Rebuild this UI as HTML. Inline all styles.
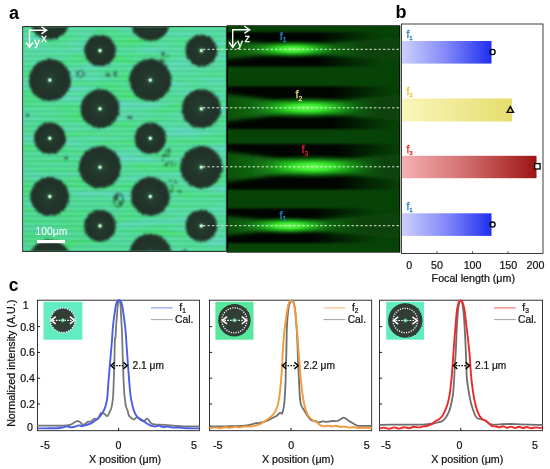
<!DOCTYPE html><html><head><meta charset="utf-8"><title>Figure</title><style>html,body{margin:0;padding:0;background:#fff}svg{display:block}text{font-family:"Liberation Sans",Arial,sans-serif}.k text{stroke:#111;stroke-width:0.22px}</style></head><body>
<svg width="550" height="469" viewBox="0 0 550 469">
<defs>
<linearGradient id="stripe" x1="0" y1="0" x2="0" y2="1"><stop offset="0" stop-color="#4fd39a"/><stop offset="0.5" stop-color="#5cccc0"/><stop offset="1" stop-color="#4fd39a"/></linearGradient>
<pattern id="bgp" x="0" y="27" width="200" height="9" patternUnits="userSpaceOnUse"><rect width="200" height="9" fill="url(#stripe)"/></pattern>
<filter id="rough" x="-10%" y="-10%" width="120%" height="120%"><feTurbulence type="fractalNoise" baseFrequency="0.6" numOctaves="2" seed="4" result="n"/><feDisplacementMap in="SourceGraphic" in2="n" scale="4" xChannelSelector="R" yChannelSelector="G"/><feGaussianBlur stdDeviation="0.8"/></filter>
<filter id="rough2" x="-15%" y="-15%" width="130%" height="130%"><feTurbulence type="fractalNoise" baseFrequency="0.5" numOctaves="2" seed="7" result="n"/><feDisplacementMap in="SourceGraphic" in2="n" scale="2" xChannelSelector="R" yChannelSelector="G"/><feGaussianBlur stdDeviation="0.6"/></filter>
<filter id="tex" x="0" y="0" width="100%" height="100%" color-interpolation-filters="sRGB"><feTurbulence type="fractalNoise" baseFrequency="0.02 0.11" numOctaves="3" seed="11"/><feColorMatrix type="matrix" values="0.14 0 0 0 0.25  -0.05 0 0 0 0.89  0.46 0 0 0 0.37  0 0 0 0 1"/></filter>
<filter id="b1" x="-10%" y="-30%" width="120%" height="160%"><feGaussianBlur stdDeviation="1.3"/></filter>
<filter id="b2" x="-20%" y="-50%" width="140%" height="200%"><feGaussianBlur stdDeviation="2.0"/></filter>
<filter id="b3" x="-20%" y="-50%" width="140%" height="200%"><feGaussianBlur stdDeviation="1.5"/></filter>
<radialGradient id="spot"><stop offset="0" stop-color="#e4f2dc"/><stop offset="0.3" stop-color="#c4e8c8"/><stop offset="0.5" stop-color="#5aa878" stop-opacity="0.8"/><stop offset="1" stop-color="#2f6a48" stop-opacity="0"/></radialGradient>
<radialGradient id="glow"><stop offset="0" stop-color="#70ff5a"/><stop offset="0.3" stop-color="#38ea2c" stop-opacity="0.95"/><stop offset="0.62" stop-color="#1cb01a" stop-opacity="0.55"/><stop offset="1" stop-color="#0c600c" stop-opacity="0"/></radialGradient>
<linearGradient id="tilt" x1="0" y1="1" x2="1" y2="0"><stop offset="0" stop-color="#3ccc72" stop-opacity="0.36"/><stop offset="0.5" stop-color="#48d0a0" stop-opacity="0.05"/><stop offset="1" stop-color="#60d0d8" stop-opacity="0.15"/></linearGradient>
<pattern id="fine" x="0" y="0" width="50" height="5" patternUnits="userSpaceOnUse"><rect width="50" height="2.5" fill="#0a5030" opacity="0.05"/><rect y="2.5" width="50" height="2.5" fill="#c0fff0" opacity="0.06"/></pattern>
<radialGradient id="disk"><stop offset="0" stop-color="#33503f"/><stop offset="0.3" stop-color="#25392e"/><stop offset="0.8" stop-color="#213228"/><stop offset="1" stop-color="#24382c"/></radialGradient>
<clipPath id="clipA"><rect x="23.3" y="27.2" width="202.4" height="223.6"/></clipPath>
<clipPath id="clipG"><rect x="227.7" y="26" width="171.8" height="226"/></clipPath>
<linearGradient id="gb1" x1="0" x2="1"><stop offset="0" stop-color="#cdd0fc"/><stop offset="0.5" stop-color="#8088f8"/><stop offset="1" stop-color="#1f2ff0"/></linearGradient>
<linearGradient id="gb2" x1="0" x2="1"><stop offset="0" stop-color="#f9f6bc"/><stop offset="1" stop-color="#e6dd6c"/></linearGradient>
<linearGradient id="gb3" x1="0" x2="1"><stop offset="0" stop-color="#f6b0b4"/><stop offset="0.5" stop-color="#d06a6a"/><stop offset="1" stop-color="#9c1414"/></linearGradient>
</defs>
<rect x="22.3" y="26.2" width="204.4" height="225.6" fill="#000"/>
<g clip-path="url(#clipA)">
<rect x="20" y="24" width="210" height="230" fill="#4fd49a"/>
<rect x="20" y="24" width="210" height="230" filter="url(#tex)" opacity="1"/>
<rect x="20" y="24" width="210" height="230" fill="url(#tilt)"/>
<rect x="20" y="24" width="210" height="230" fill="url(#fine)"/>
<g filter="url(#rough)" fill="none" stroke="#24442e" stroke-width="1.3" opacity="0.9">
<ellipse cx="80.5" cy="74" rx="3.4" ry="2.8"/>
<ellipse cx="108" cy="75" rx="1.3" ry="1.0"/>
<ellipse cx="115.3" cy="74" rx="1.2" ry="1.5"/>
<ellipse cx="27.5" cy="115" rx="1.1" ry="1.1"/>
<ellipse cx="130" cy="117" rx="1.3" ry="1.3"/>
<ellipse cx="66" cy="158" rx="1.3" ry="1.3"/>
<ellipse cx="118.5" cy="200" rx="4.6" ry="6.6"/>
<ellipse cx="116.5" cy="198" rx="1.2" ry="1.6"/>
<ellipse cx="120" cy="203" rx="1.2" ry="1.2"/>
<path d="M170.7 161.4q1.2 1.8 1.4 2.5"/>
<path d="M162.4 156.4q1.8 0.6 2.4 -2.3"/>
<path d="M168.6 152.4q0.2 0.3 -2.9 -1.7"/>
<path d="M165.9 164.5q1.1 -1.4 1.8 -2.2"/>
<path d="M170.6 150.3q-2.0 1.5 -1.7 -1.7"/>
<path d="M175.8 163.7q-0.8 1.8 0.2 1.1"/>
<path d="M164.9 164.9q0.8 1.9 2.4 -1.2"/>
<path d="M167.1 151.0q-1.4 -1.7 -1.2 0.6"/>
<path d="M162.0 160.2q-0.6 -0.8 1.9 -0.1"/>
<path d="M166.4 156.7q0.8 -1.8 2.9 -2.9"/>
<path d="M172.5 163.2q-1.9 1.2 -0.8 0.5"/>
<path d="M171.1 179.6q-1.3 1.8 -1.8 1.5"/>
<path d="M181.2 191.2q-0.6 -0.6 0.1 1.7"/>
<path d="M172.2 188.7q1.2 1.4 -2.8 2.7"/>
<path d="M172.0 183.4q0.4 1.7 -1.0 2.5"/>
<path d="M177.0 183.1q-0.7 -1.3 -2.5 -2.1"/>
<path d="M178.6 192.0q-1.4 -1.8 2.9 0.2"/>
<path d="M175.5 182.1q0.4 1.3 -0.3 -0.5"/>
<path d="M171.6 190.9q-1.9 -0.0 2.0 -2.2"/>
<path d="M165.3 62.3q0.5 1.2 -2.4 -0.4"/>
<path d="M159.5 61.0q-0.8 -0.2 3.0 2.1"/>
<path d="M167.8 55.9q-0.0 0.9 -0.1 -1.3"/>
<path d="M162.0 51.9q-0.5 2.0 2.8 0.8"/>
<path d="M163.0 54.4q-1.6 -0.9 1.7 2.2"/>
<path d="M161.6 60.2q1.1 0.8 1.0 1.6"/>
<path d="M161.6 59.2q-0.9 -0.1 1.6 1.1"/>
<path d="M185.1 250.7q0.6 0.3 -2.9 0.3"/>
<path d="M184.8 249.4q-0.1 1.3 0.9 1.8"/>
<path d="M185.4 249.2q1.0 1.3 -0.9 2.1"/>
</g>
<g filter="url(#rough)" fill="url(#disk)">
<circle cx="49.8" cy="20.3" r="19.5"/>
<circle cx="49.8" cy="80.1" r="21.1"/>
<circle cx="49.8" cy="138.3" r="15.8"/>
<circle cx="49.8" cy="196.5" r="19.5"/>
<circle cx="49.8" cy="260.8" r="21.1"/>
<circle cx="150.3" cy="21.6" r="19.5"/>
<circle cx="150.3" cy="80.1" r="21.1"/>
<circle cx="150.3" cy="138.3" r="15.8"/>
<circle cx="150.3" cy="196.5" r="19.5"/>
<circle cx="150.3" cy="254.8" r="21.1"/>
<circle cx="100.0" cy="50.6" r="15.8"/>
<circle cx="100.0" cy="108.8" r="19.5"/>
<circle cx="100.0" cy="167.2" r="21.1"/>
<circle cx="100.0" cy="225.9" r="15.8"/>
<circle cx="201.3" cy="50.6" r="15.8"/>
<circle cx="201.3" cy="108.8" r="19.5"/>
<circle cx="201.3" cy="167.2" r="21.1"/>
<circle cx="201.3" cy="225.9" r="15.8"/>
</g>
<circle cx="49.8" cy="20.3" r="3.6" fill="url(#spot)"/>
<circle cx="49.8" cy="80.1" r="3.6" fill="url(#spot)"/>
<circle cx="49.8" cy="138.3" r="3.6" fill="url(#spot)"/>
<circle cx="49.8" cy="196.5" r="3.6" fill="url(#spot)"/>
<circle cx="49.8" cy="260.8" r="3.6" fill="url(#spot)"/>
<circle cx="150.3" cy="21.6" r="3.6" fill="url(#spot)"/>
<circle cx="150.3" cy="80.1" r="3.6" fill="url(#spot)"/>
<circle cx="150.3" cy="138.3" r="3.6" fill="url(#spot)"/>
<circle cx="150.3" cy="196.5" r="3.6" fill="url(#spot)"/>
<circle cx="150.3" cy="254.8" r="3.6" fill="url(#spot)"/>
<circle cx="100.0" cy="50.6" r="3.6" fill="url(#spot)"/>
<circle cx="100.0" cy="108.8" r="3.6" fill="url(#spot)"/>
<circle cx="100.0" cy="167.2" r="3.6" fill="url(#spot)"/>
<circle cx="100.0" cy="225.9" r="3.6" fill="url(#spot)"/>
<circle cx="201.3" cy="50.6" r="3.6" fill="url(#spot)"/>
<circle cx="201.3" cy="108.8" r="3.6" fill="url(#spot)"/>
<circle cx="201.3" cy="167.2" r="3.6" fill="url(#spot)"/>
<circle cx="201.3" cy="225.9" r="3.6" fill="url(#spot)"/>
</g>
<rect x="37" y="240" width="28" height="3.2" fill="#fff"/>
<text x="35.6" y="234.9" font-size="10.3" fill="#fff">100μm</text>
<g stroke="#fff" stroke-width="1.4" fill="none" stroke-linecap="square"><path d="M29.5 47.3V30.3H46.5"/><path d="M42.0 27.1L46.5 30.3L42.0 33.5"/><path d="M26.3 42.8L29.5 47.3L32.7 42.8"/></g><text x="34.2" y="46.4" font-size="11" fill="#fff" stroke="#fff" stroke-width="0.3">y</text><text x="41.2" y="41.6" font-size="11" fill="#fff" stroke="#fff" stroke-width="0.3">x</text>
<rect x="226.7" y="25.3" width="173.6" height="227.3" fill="#000"/>
<g clip-path="url(#clipG)">
<rect x="227.5" y="26" width="172" height="226" fill="#074207"/>
<linearGradient id="dk0" gradientUnits="userSpaceOnUse" x1="227" x2="381"><stop offset="0" stop-color="#000" stop-opacity="0.93"/><stop offset="0.591" stop-color="#000" stop-opacity="0.92"/><stop offset="1" stop-color="#000" stop-opacity="0"/></linearGradient>
<rect x="218" y="31.999999999999996" width="163" height="34.6" fill="url(#dk0)" filter="url(#b1)"/>
<linearGradient id="cn0" gradientUnits="userSpaceOnUse" x1="227" x2="400"><stop offset="0" stop-color="#0d4f0d"/><stop offset="0.210" stop-color="#157a15"/><stop offset="0.382" stop-color="#20b81e"/><stop offset="0.601" stop-color="#116811"/><stop offset="0.798" stop-color="#074207"/><stop offset="1" stop-color="#074207"/></linearGradient>
<path d="M215 38.0 L279 45.339999999999996 L307 45.339999999999996 L410 35.9 V62.7 L307 53.26 L279 53.26 L215 60.599999999999994Z" fill="url(#cn0)" filter="url(#b2)"/>
<ellipse cx="293" cy="49.3" rx="49.5" ry="9.6" fill="url(#glow)"/>
<linearGradient id="dk1" gradientUnits="userSpaceOnUse" x1="227" x2="395"><stop offset="0" stop-color="#000" stop-opacity="0.93"/><stop offset="0.625" stop-color="#000" stop-opacity="0.92"/><stop offset="1" stop-color="#000" stop-opacity="0"/></linearGradient>
<rect x="218" y="86.5" width="177" height="42.6" fill="url(#dk1)" filter="url(#b1)"/>
<linearGradient id="cn1" gradientUnits="userSpaceOnUse" x1="227" x2="400"><stop offset="0" stop-color="#0d4f0d"/><stop offset="0.254" stop-color="#157a15"/><stop offset="0.462" stop-color="#20b81e"/><stop offset="0.682" stop-color="#116811"/><stop offset="0.879" stop-color="#074207"/><stop offset="1" stop-color="#074207"/></linearGradient>
<path d="M215 92.5 L293 102.88 L321 102.88 L410 93.0 V122.6 L321 112.72 L293 112.72 L215 123.1Z" fill="url(#cn1)" filter="url(#b2)"/>
<ellipse cx="307" cy="107.8" rx="61.5" ry="11.9" fill="url(#glow)"/>
<linearGradient id="dk2" gradientUnits="userSpaceOnUse" x1="227" x2="401"><stop offset="0" stop-color="#000" stop-opacity="0.93"/><stop offset="0.638" stop-color="#000" stop-opacity="0.92"/><stop offset="1" stop-color="#000" stop-opacity="0"/></linearGradient>
<rect x="218" y="144.0" width="183" height="45.6" fill="url(#dk2)" filter="url(#b1)"/>
<linearGradient id="cn2" gradientUnits="userSpaceOnUse" x1="227" x2="400"><stop offset="0" stop-color="#0d4f0d"/><stop offset="0.273" stop-color="#157a15"/><stop offset="0.497" stop-color="#20b81e"/><stop offset="0.717" stop-color="#116811"/><stop offset="0.913" stop-color="#074207"/><stop offset="1" stop-color="#074207"/></linearGradient>
<path d="M215 150.0 L299 161.52 L327 161.52 L410 152.0 V181.6 L327 172.08 L299 172.08 L215 183.60000000000002Z" fill="url(#cn2)" filter="url(#b2)"/>
<ellipse cx="313" cy="166.8" rx="66.0" ry="12.8" fill="url(#glow)"/>
<linearGradient id="dk3" gradientUnits="userSpaceOnUse" x1="227" x2="377"><stop offset="0" stop-color="#000" stop-opacity="0.93"/><stop offset="0.580" stop-color="#000" stop-opacity="0.92"/><stop offset="1" stop-color="#000" stop-opacity="0"/></linearGradient>
<rect x="218" y="208.39999999999998" width="159" height="34.6" fill="url(#dk3)" filter="url(#b1)"/>
<linearGradient id="cn3" gradientUnits="userSpaceOnUse" x1="227" x2="400"><stop offset="0" stop-color="#0d4f0d"/><stop offset="0.197" stop-color="#157a15"/><stop offset="0.358" stop-color="#20b81e"/><stop offset="0.578" stop-color="#116811"/><stop offset="0.775" stop-color="#074207"/><stop offset="1" stop-color="#074207"/></linearGradient>
<path d="M215 214.39999999999998 L275 221.73999999999998 L303 221.73999999999998 L410 211.2 V240.2 L303 229.66 L275 229.66 L215 237.0Z" fill="url(#cn3)" filter="url(#b2)"/>
<ellipse cx="289" cy="225.7" rx="49.5" ry="9.6" fill="url(#glow)"/>
</g>
<line x1="203" x2="400" y1="49.3" y2="49.3" stroke="#dcecdc" stroke-width="1" stroke-dasharray="2.4 2.1"/>
<line x1="203" x2="400" y1="107.8" y2="107.8" stroke="#dcecdc" stroke-width="1" stroke-dasharray="2.4 2.1"/>
<line x1="203" x2="400" y1="166.8" y2="166.8" stroke="#dcecdc" stroke-width="1" stroke-dasharray="2.4 2.1"/>
<line x1="203" x2="400" y1="225.7" y2="225.7" stroke="#dcecdc" stroke-width="1" stroke-dasharray="2.4 2.1"/>
<g stroke="#fff" stroke-width="1.4" fill="none" stroke-linecap="square"><path d="M232.7 47.3V29.8H249.5"/><path d="M245.0 26.6L249.5 29.8L245.0 33.0"/><path d="M229.5 42.8L232.7 47.3L235.89999999999998 42.8"/></g><text x="237.2" y="46.8" font-size="11" fill="#fff" stroke="#fff" stroke-width="0.3">y</text><text x="244.4" y="41.8" font-size="11" fill="#fff" stroke="#fff" stroke-width="0.3">z</text>
<text x="279.8" y="39.8" font-size="11" fill="#2a7fc0" style="stroke:#2a7fc0;stroke-width:0.3px">f<tspan font-size="6.8" dy="2.2">1</tspan></text>
<text x="295.4" y="98.4" font-size="11" fill="#ecd27a" style="stroke:#ecd27a;stroke-width:0.3px">f<tspan font-size="6.8" dy="2.2">2</tspan></text>
<text x="301.5" y="153.4" font-size="11" fill="#d82030" style="stroke:#d82030;stroke-width:0.3px">f<tspan font-size="6.8" dy="2.2">3</tspan></text>
<text x="279.4" y="219" font-size="11" fill="#2a7fc0" style="stroke:#2a7fc0;stroke-width:0.3px">f<tspan font-size="6.8" dy="2.2">1</tspan></text>
<text x="9" y="18.6" font-size="18" font-weight="bold" fill="#000">a</text>
<text x="395.5" y="18.4" font-size="18" font-weight="bold" fill="#000">b</text>
<text x="8.8" y="290.9" font-size="17.5" font-weight="bold" fill="#000">c</text>
<g class="k">
<rect x="401.5" y="24" width="141.5" height="229.5" fill="#fff" stroke="#111" stroke-width="0.8"/>
<rect x="402" y="41" width="89.5" height="22.6" fill="url(#gb1)"/>
<rect x="402" y="98.5" width="110" height="23" fill="url(#gb2)"/>
<rect x="402" y="155.8" width="134.5" height="22.4" fill="url(#gb3)"/>
<rect x="402" y="213.3" width="89.5" height="22.6" fill="url(#gb1)"/>
<circle cx="492.5" cy="52" r="2.6" fill="none" stroke="#000" stroke-width="1.3"/>
<path d="M510.3 106.6 L513.5 112.4 H507.1Z" fill="none" stroke="#000" stroke-width="1.4"/>
<rect x="534.7" y="163.6" width="5.4" height="5.4" fill="#fff" stroke="#000" stroke-width="1.3"/>
<circle cx="492.5" cy="224.6" r="2.6" fill="none" stroke="#000" stroke-width="1.3"/>
<text x="406.5" y="38" font-size="10" fill="#2a7fc0" style="stroke:#2a7fc0;stroke-width:0.3px">f<tspan font-size="6.2" dy="2.2">1</tspan></text>
<text x="406.5" y="95" font-size="10" fill="#f2c232" style="stroke:#f2c232;stroke-width:0.3px">f<tspan font-size="6.2" dy="2.2">2</tspan></text>
<text x="406.5" y="153" font-size="10" fill="#e02828" style="stroke:#e02828;stroke-width:0.3px">f<tspan font-size="6.2" dy="2.2">3</tspan></text>
<text x="406.5" y="210" font-size="10" fill="#2a7fc0" style="stroke:#2a7fc0;stroke-width:0.3px">f<tspan font-size="6.2" dy="2.2">1</tspan></text>
<line x1="437" x2="437" y1="253.5" y2="251.3" stroke="#222" stroke-width="0.8"/>
<line x1="472.5" x2="472.5" y1="253.5" y2="251.3" stroke="#222" stroke-width="0.8"/>
<line x1="508" x2="508" y1="253.5" y2="251.3" stroke="#222" stroke-width="0.8"/>
<text x="409.2" y="269.3" font-size="10.7" text-anchor="middle" fill="#111">0</text>
<text x="437" y="269.3" font-size="10.7" text-anchor="middle" fill="#111">50</text>
<text x="472.6" y="269.3" font-size="10.7" text-anchor="middle" fill="#111">100</text>
<text x="508.3" y="269.3" font-size="10.7" text-anchor="middle" fill="#111">150</text>
<text x="535.5" y="269.3" font-size="10.7" text-anchor="middle" fill="#111">200</text>
<text x="473.3" y="281.5" font-size="10.7" text-anchor="middle" fill="#111">Focal length (μm)</text>
<rect x="37.5" y="300.2" width="162.0" height="130.5" fill="#fff" stroke="#111" stroke-width="0.85"/><text x="33" y="431.4" font-size="10.7" text-anchor="end" fill="#111">0</text><line x1="37.5" x2="40.1" y1="404.0" y2="404.0" stroke="#000" stroke-width="0.9"/><text x="35" y="407.9" font-size="10.7" text-anchor="end" fill="#111">0.2</text><line x1="37.5" x2="40.1" y1="378.2" y2="378.2" stroke="#000" stroke-width="0.9"/><text x="35" y="382.1" font-size="10.7" text-anchor="end" fill="#111">0.4</text><line x1="37.5" x2="40.1" y1="352.4" y2="352.4" stroke="#000" stroke-width="0.9"/><text x="35" y="356.3" font-size="10.7" text-anchor="end" fill="#111">0.6</text><line x1="37.5" x2="40.1" y1="326.6" y2="326.6" stroke="#000" stroke-width="0.9"/><text x="35" y="330.5" font-size="10.7" text-anchor="end" fill="#111">0.8</text><text x="28.8" y="308.9" font-size="10.7" text-anchor="end" fill="#111">1</text><line x1="118.6" x2="118.6" y1="430.7" y2="427.9" stroke="#000" stroke-width="0.9"/><text x="45.099999999999994" y="449.3" font-size="10.7" text-anchor="middle" fill="#111">-5</text><text x="118.6" y="449.3" font-size="10.7" text-anchor="middle" fill="#111">0</text><text x="194.1" y="449.3" font-size="10.7" text-anchor="middle" fill="#111">5</text><text x="125.1" y="463" font-size="10.7" text-anchor="middle" fill="#111">X position (μm)</text><rect x="43.5" y="301.8" width="38.9" height="37.9" fill="#62ecc2"/><circle cx="62.8" cy="320.3" r="12.3" fill="#303c36" filter="url(#rough2)"/><circle cx="62.8" cy="320.3" r="12.2" fill="none" stroke="#fff" stroke-width="1.3" stroke-dasharray="1.2 1.25"/><g stroke="#fff" stroke-width="1.55" fill="none"><path d="M53.099999999999994 320.3H72.5" stroke-dasharray="1.6 1.2" stroke-width="1.2"/><path d="M55.699999999999996 316.7L51.099999999999994 320.3L55.699999999999996 323.90000000000003M69.9 316.7L74.5 320.3L69.9 323.90000000000003"/></g><circle cx="62.8" cy="320.3" r="2.3" fill="#2aa86a" opacity="0.8"/><circle cx="62.8" cy="320.3" r="1.3" fill="#b8f8d8"/><path d="M37.5 425.7C39.5 425.7 46.0 425.7 50.0 425.7C54.0 425.7 59.6 425.8 62.8 425.7C66.0 425.6 68.0 425.4 70.0 424.8C72.0 424.2 73.8 422.6 75.0 422.0C76.2 421.4 76.9 420.9 77.8 421.0C78.7 421.1 79.7 421.9 80.5 422.5C81.3 423.1 82.3 424.8 83.0 425.0C83.7 425.2 84.2 424.3 85.0 423.8C85.8 423.3 87.2 422.1 88.2 421.7C89.2 421.3 90.4 421.8 91.4 421.3C92.4 420.8 93.6 419.0 94.5 418.7C95.4 418.4 96.4 419.9 97.1 419.6C97.8 419.3 98.4 417.9 99.0 416.8C99.6 415.7 100.1 413.5 100.9 413.0C101.7 412.5 103.1 413.1 104.1 413.6C105.1 414.1 106.4 416.5 107.3 416.2C108.2 415.9 109.1 413.2 109.8 411.7C110.5 410.2 111.2 408.8 111.7 406.6C112.2 404.4 112.7 401.2 113.0 397.7C113.3 394.2 113.4 390.1 113.6 385.0C113.8 379.9 114.1 372.8 114.3 365.6C114.5 358.4 114.7 344.5 114.9 340.0C115.1 335.5 115.3 339.7 115.5 337.6C115.7 335.5 115.9 330.4 116.1 327.0C116.3 323.6 116.6 319.7 116.9 316.3C117.2 312.9 117.5 308.1 117.7 305.7C117.9 303.3 118.2 301.9 118.4 301.0C118.6 300.1 118.9 300.3 119.1 300.3C119.3 300.3 119.7 300.1 119.9 301.0C120.1 301.9 120.4 303.3 120.6 305.7C120.8 308.1 120.9 312.9 121.1 316.3C121.3 319.7 121.5 323.6 121.7 327.0C121.9 330.4 122.0 331.4 122.2 337.6C122.4 343.8 122.7 358.0 123.0 365.6C123.3 373.2 123.5 379.9 123.8 385.0C124.1 390.1 124.3 394.2 124.7 397.7C125.1 401.2 125.5 404.6 126.0 406.6C126.5 408.6 127.1 409.1 127.6 410.5C128.1 411.9 128.3 414.3 128.9 415.5C129.5 416.7 130.7 417.5 131.5 418.1C132.3 418.7 133.1 419.6 134.0 419.4C134.9 419.2 136.3 417.1 137.2 417.1C138.1 417.1 138.7 418.7 139.7 419.4C140.7 420.1 142.4 421.4 143.5 421.3C144.6 421.2 145.9 418.9 146.7 418.7C147.5 418.5 147.9 419.3 148.6 420.0C149.3 420.7 150.2 422.5 151.2 423.2C152.2 423.9 152.8 424.2 155.0 424.5C157.2 424.8 161.5 424.7 164.7 424.9C167.9 425.1 172.1 425.6 175.0 425.8C177.9 426.0 178.7 426.2 182.6 426.3C186.5 426.4 196.8 426.3 199.5 426.3" fill="none" stroke="#787878" stroke-width="1.8" stroke-linejoin="round"/><path d="M37.5 428.4C39.5 428.4 46.7 428.3 50.0 428.3C53.3 428.3 55.9 428.3 58.0 428.2C60.1 428.1 61.6 427.7 63.0 427.4C64.4 427.1 65.7 426.4 67.0 426.4C68.3 426.4 69.7 427.3 71.0 427.3C72.3 427.3 73.7 426.9 75.0 426.6C76.3 426.3 77.8 425.5 79.0 425.4C80.2 425.3 81.3 426.2 82.5 426.1C83.7 426.0 84.9 425.5 86.3 425.0C87.7 424.5 89.9 424.0 91.4 423.2C92.9 422.4 94.5 421.0 95.8 420.0C97.1 419.0 98.5 418.0 99.6 416.8C100.7 415.6 101.9 414.0 102.8 412.4C103.7 410.8 104.7 409.0 105.4 406.6C106.1 404.2 106.9 401.2 107.3 397.7C107.7 394.2 107.8 390.1 108.2 385.0C108.6 379.9 109.2 372.8 109.8 365.6C110.4 358.4 111.5 346.2 112.0 340.0C112.5 333.8 112.5 330.8 112.9 327.0C113.3 323.2 113.7 319.7 114.2 316.3C114.7 312.9 115.3 308.1 115.8 305.7C116.3 303.3 116.8 302.1 117.3 301.2C117.8 300.3 118.5 300.2 119.0 300.2C119.5 300.2 120.2 300.3 120.7 301.2C121.2 302.1 121.7 303.3 122.2 305.7C122.7 308.1 123.3 312.9 123.8 316.3C124.3 319.7 124.8 323.2 125.2 327.0C125.6 330.8 125.8 333.8 126.2 340.0C126.6 346.2 127.5 358.4 128.0 365.6C128.5 372.8 129.1 379.9 129.5 385.0C129.9 390.1 130.3 394.2 130.8 397.7C131.3 401.2 132.1 404.2 132.7 406.6C133.3 409.0 133.9 410.8 134.6 412.4C135.3 414.0 136.2 415.7 137.2 416.8C138.2 417.9 139.8 418.6 141.0 419.4C142.2 420.2 143.6 421.1 144.8 421.9C146.0 422.7 147.4 423.8 148.6 424.5C149.8 425.2 151.0 425.7 152.0 426.0C153.0 426.3 153.9 426.7 155.0 426.6C156.1 426.5 157.7 425.5 159.0 425.6C160.3 425.7 161.6 426.8 163.0 427.0C164.4 427.2 166.4 426.5 168.0 426.6C169.6 426.7 171.1 427.4 173.0 427.6C174.9 427.8 177.5 427.5 179.6 427.6C181.7 427.7 182.8 428.1 186.0 428.2C189.2 428.3 197.3 428.4 199.5 428.4" fill="none" stroke="#4a5ee6" stroke-width="1.9" stroke-linejoin="round"/><line x1="151.0" x2="172.8" y1="307.9" y2="307.9" stroke="#4a5ee6" stroke-width="1" opacity="0.75"/><line x1="151.0" x2="172.8" y1="319.6" y2="319.6" stroke="#787878" stroke-width="1" opacity="0.65"/><text x="179.3" y="311" font-size="10.3" fill="#111">f<tspan font-size="6.6" dy="2.2">1</tspan></text><text x="175.10000000000002" y="323.4" font-size="10.3" fill="#111">Cal.</text><g stroke="#000" stroke-width="1.4" fill="none"><path d="M113.3 365.6H124.8" stroke-dasharray="1.6 1.2" stroke-width="1.2"/><path d="M114.7 362.3L110.89999999999999 365.6L114.7 368.90000000000003M123.39999999999999 362.3L127.2 365.6L123.39999999999999 368.90000000000003"/></g><text x="132.6" y="369.3" font-size="10.2" fill="#111">2.1 μm</text>
<rect x="209.5" y="300.2" width="162.2" height="130.5" fill="#fff" stroke="#111" stroke-width="0.85"/><line x1="209.5" x2="212.1" y1="404.0" y2="404.0" stroke="#000" stroke-width="0.9"/><line x1="209.5" x2="212.1" y1="378.2" y2="378.2" stroke="#000" stroke-width="0.9"/><line x1="209.5" x2="212.1" y1="352.4" y2="352.4" stroke="#000" stroke-width="0.9"/><line x1="209.5" x2="212.1" y1="326.6" y2="326.6" stroke="#000" stroke-width="0.9"/><line x1="291" x2="291" y1="430.7" y2="427.9" stroke="#000" stroke-width="0.9"/><text x="217.7" y="449.3" font-size="10.7" text-anchor="middle" fill="#111">-5</text><text x="291.2" y="449.3" font-size="10.7" text-anchor="middle" fill="#111">0</text><text x="366.7" y="449.3" font-size="10.7" text-anchor="middle" fill="#111">5</text><text x="298.0" y="463" font-size="10.7" text-anchor="middle" fill="#111">X position (μm)</text><rect x="215.4" y="301.8" width="38.1" height="37.9" fill="#58e89c"/><circle cx="234.4" cy="320.3" r="16.2" fill="#303c36" filter="url(#rough2)"/><circle cx="234.4" cy="320.3" r="12.5" fill="none" stroke="#fff" stroke-width="1.3" stroke-dasharray="1.2 1.25"/><g stroke="#fff" stroke-width="1.55" fill="none"><path d="M224.4 320.3H244.4" stroke-dasharray="1.6 1.2" stroke-width="1.2"/><path d="M227.0 316.7L222.4 320.3L227.0 323.90000000000003M241.8 316.7L246.4 320.3L241.8 323.90000000000003"/></g><circle cx="234.4" cy="320.3" r="2.3" fill="#2aa86a" opacity="0.8"/><circle cx="234.4" cy="320.3" r="1.3" fill="#b8f8d8"/><path d="M209.5 426.3C212.0 426.3 219.4 426.4 225.0 426.3C230.6 426.2 239.8 426.2 244.8 425.7C249.8 425.2 253.2 423.7 256.0 423.2C258.8 422.7 260.1 422.9 262.0 422.5C263.9 422.1 266.2 421.2 267.9 420.5C269.6 419.8 271.0 418.8 272.4 418.0C273.8 417.2 275.7 416.5 276.9 415.7C278.1 414.9 279.1 413.2 279.9 412.8C280.7 412.4 281.6 414.0 282.1 413.5C282.6 413.0 282.8 411.6 283.2 409.8C283.6 408.0 284.0 407.1 284.4 402.3C284.8 397.5 285.4 385.9 285.6 379.9C285.8 373.9 285.8 369.0 285.9 365.0C286.0 361.0 286.2 358.7 286.3 354.7C286.4 350.7 286.5 344.6 286.6 339.8C286.7 335.0 286.7 329.7 287.0 324.9C287.3 320.1 287.8 313.6 288.3 310.0C288.8 306.4 289.4 304.0 290.0 302.5C290.6 301.0 291.4 300.3 292.0 300.4C292.6 300.5 293.3 301.5 293.8 303.0C294.3 304.5 294.6 306.5 295.0 310.0C295.4 313.5 296.0 320.1 296.4 324.9C296.8 329.7 297.1 335.0 297.3 339.8C297.5 344.6 297.7 350.7 297.8 354.7C297.9 358.7 298.0 361.0 298.2 365.0C298.4 369.0 298.8 375.1 299.0 379.9C299.2 384.7 299.5 391.3 299.7 394.9C299.9 398.5 300.2 400.5 300.5 402.3C300.8 404.1 301.0 404.8 301.5 406.0C302.0 407.2 302.8 408.2 303.8 409.8C304.8 411.4 306.3 414.0 307.5 415.7C308.7 417.4 309.9 419.4 311.2 420.2C312.5 421.0 314.5 420.6 315.7 421.0C316.9 421.4 317.6 422.4 318.7 422.4C319.8 422.4 321.4 421.4 322.7 421.3C324.0 421.2 325.5 421.8 327.0 421.8C328.5 421.8 330.9 421.1 332.3 421.0C333.7 420.9 335.0 421.3 336.0 421.2C337.0 421.1 337.8 420.9 338.6 420.5C339.4 420.1 340.2 419.4 341.0 419.0C341.8 418.6 342.6 417.8 343.4 417.7C344.2 417.6 345.0 418.2 345.8 418.6C346.6 419.0 347.3 419.9 348.2 420.5C349.1 421.1 350.6 422.0 351.6 422.6C352.6 423.2 353.5 423.8 354.5 424.3C355.5 424.8 356.2 425.5 357.7 425.8C359.2 426.1 361.8 425.9 364.0 425.9C366.2 425.9 370.5 425.9 371.7 425.9" fill="none" stroke="#6e6e6e" stroke-width="1.8" stroke-linejoin="round"/><path d="M209.5 428.4C210.4 428.2 213.3 427.4 215.0 427.4C216.7 427.4 218.4 428.2 220.0 428.2C221.6 428.2 223.4 427.3 225.0 427.2C226.6 427.1 228.4 427.9 230.0 427.8C231.6 427.7 233.4 426.9 235.0 426.8C236.6 426.7 238.4 427.5 240.0 427.4C241.6 427.3 243.4 426.5 245.0 426.4C246.6 426.3 248.4 426.7 250.0 426.6C251.6 426.5 253.3 426.0 255.0 425.6C256.7 425.2 258.9 424.7 260.5 424.0C262.1 423.3 263.6 422.0 265.0 421.0C266.4 420.0 268.1 419.1 269.4 418.0C270.7 416.9 272.1 415.6 273.2 414.3C274.3 413.0 275.3 411.5 276.1 409.8C276.9 408.1 277.5 406.2 278.1 403.8C278.7 401.4 279.1 398.7 279.6 394.9C280.1 391.1 280.7 384.7 281.1 379.9C281.5 375.1 281.9 369.0 282.1 365.0C282.3 361.0 282.4 358.7 282.6 354.7C282.8 350.7 283.2 344.6 283.6 339.8C284.0 335.0 284.5 329.7 285.1 324.9C285.7 320.1 286.7 313.6 287.3 310.0C287.9 306.4 288.4 304.0 289.0 302.5C289.6 301.0 290.4 300.4 291.1 300.4C291.8 300.4 292.6 301.0 293.2 302.5C293.8 304.0 294.6 306.4 295.1 310.0C295.6 313.6 296.2 320.1 296.6 324.9C297.0 329.7 297.4 335.0 297.8 339.8C298.2 344.6 298.5 350.7 298.8 354.7C299.1 358.7 299.4 361.0 299.7 365.0C300.0 369.0 300.3 375.1 300.8 379.9C301.3 384.7 302.1 391.1 302.6 394.9C303.1 398.7 303.6 401.4 304.1 403.8C304.6 406.2 305.0 407.9 305.7 409.8C306.4 411.7 307.1 414.0 308.2 415.7C309.3 417.4 311.3 419.1 312.7 420.2C314.1 421.3 316.0 421.7 317.2 422.5C318.4 423.3 319.1 424.6 320.2 425.2C321.3 425.8 322.8 426.3 324.0 426.4C325.2 426.5 326.7 425.6 328.0 425.6C329.3 425.6 331.0 426.4 332.3 426.4C333.6 426.4 334.8 425.7 336.0 425.8C337.2 425.9 338.6 426.7 340.0 426.8C341.4 426.9 343.6 426.5 345.0 426.6C346.4 426.7 347.7 427.5 349.0 427.6C350.3 427.7 351.6 426.9 353.0 427.0C354.4 427.1 356.2 427.9 358.0 428.0C359.8 428.1 361.8 427.8 364.0 427.8C366.2 427.8 370.5 428.0 371.7 428.0" fill="none" stroke="#f39a3e" stroke-width="1.9" stroke-linejoin="round"/><line x1="323.59999999999997" x2="345.4" y1="307.9" y2="307.9" stroke="#f39a3e" stroke-width="1" opacity="0.75"/><line x1="323.59999999999997" x2="345.4" y1="319.6" y2="319.6" stroke="#6e6e6e" stroke-width="1" opacity="0.65"/><text x="351.9" y="311" font-size="10.3" fill="#111">f<tspan font-size="6.6" dy="2.2">2</tspan></text><text x="347.7" y="323.4" font-size="10.3" fill="#111">Cal.</text><g stroke="#000" stroke-width="1.4" fill="none"><path d="M284.8 365.6H295.8" stroke-dasharray="1.6 1.2" stroke-width="1.2"/><path d="M286.2 362.3L282.40000000000003 365.6L286.2 368.90000000000003M294.40000000000003 362.3L298.2 365.6L294.40000000000003 368.90000000000003"/></g><text x="303.6" y="369.3" font-size="10.2" fill="#111">2.2 μm</text>
<rect x="379.5" y="300.2" width="163.0" height="130.5" fill="#fff" stroke="#111" stroke-width="0.85"/><line x1="379.5" x2="382.1" y1="404.0" y2="404.0" stroke="#000" stroke-width="0.9"/><line x1="379.5" x2="382.1" y1="378.2" y2="378.2" stroke="#000" stroke-width="0.9"/><line x1="379.5" x2="382.1" y1="352.4" y2="352.4" stroke="#000" stroke-width="0.9"/><line x1="379.5" x2="382.1" y1="326.6" y2="326.6" stroke="#000" stroke-width="0.9"/><line x1="460.8" x2="460.8" y1="430.7" y2="427.9" stroke="#000" stroke-width="0.9"/><text x="386.1" y="449.3" font-size="10.7" text-anchor="middle" fill="#111">-5</text><text x="459.6" y="449.3" font-size="10.7" text-anchor="middle" fill="#111">0</text><text x="535.1" y="449.3" font-size="10.7" text-anchor="middle" fill="#111">5</text><text x="467.3" y="463" font-size="10.7" text-anchor="middle" fill="#111">X position (μm)</text><rect x="386.2" y="301.8" width="37.8" height="37.9" fill="#62ecc2"/><circle cx="405.3" cy="320.5" r="17.2" fill="#303c36" filter="url(#rough2)"/><circle cx="405.3" cy="320.5" r="12.2" fill="none" stroke="#fff" stroke-width="1.3" stroke-dasharray="1.2 1.25"/><g stroke="#fff" stroke-width="1.55" fill="none"><path d="M395.6 320.5H415.0" stroke-dasharray="1.6 1.2" stroke-width="1.2"/><path d="M398.20000000000005 316.9L393.6 320.5L398.20000000000005 324.1M412.4 316.9L417.0 320.5L412.4 324.1"/></g><circle cx="405.3" cy="320.5" r="2.3" fill="#2aa86a" opacity="0.8"/><circle cx="405.3" cy="320.5" r="1.3" fill="#b8f8d8"/><path d="M379.5 424.8C382.8 424.8 394.3 424.6 400.0 424.6C405.7 424.6 410.8 424.6 415.0 424.6C419.2 424.6 423.0 424.6 426.0 424.4C429.0 424.2 431.6 423.8 433.5 423.5C435.4 423.2 436.5 422.9 437.9 422.5C439.3 422.1 441.2 421.7 442.4 421.0C443.6 420.3 444.4 419.3 445.4 418.0C446.4 416.7 447.6 414.6 448.4 412.8C449.2 411.0 449.9 409.7 450.6 406.8C451.3 403.9 452.3 399.2 452.9 394.9C453.5 390.6 453.8 384.7 454.1 379.9C454.4 375.1 454.6 369.0 454.8 365.0C455.0 361.0 455.4 358.7 455.6 354.7C455.8 350.7 456.1 344.6 456.3 339.8C456.5 335.0 456.7 329.7 457.0 324.9C457.3 320.1 457.7 313.6 458.1 310.0C458.5 306.4 458.9 304.0 459.3 302.5C459.7 301.0 460.3 300.4 460.7 300.4C461.1 300.4 461.7 301.0 462.1 302.5C462.5 304.0 462.9 306.4 463.3 310.0C463.7 313.6 464.2 320.1 464.5 324.9C464.8 329.7 465.1 335.0 465.3 339.8C465.5 344.6 465.8 350.7 466.0 354.7C466.2 358.7 466.1 361.0 466.3 365.0C466.5 369.0 466.5 375.1 467.0 379.9C467.5 384.7 468.7 391.3 469.3 394.9C469.9 398.5 470.2 399.9 470.8 402.3C471.4 404.7 472.3 407.7 473.0 409.8C473.7 411.9 474.5 414.3 475.3 415.7C476.1 417.1 477.0 418.1 478.2 418.7C479.4 419.3 481.4 419.1 482.7 419.5C484.0 419.9 485.2 420.7 486.4 421.4C487.6 422.1 488.7 423.5 490.2 424.0C491.7 424.5 494.1 424.7 496.0 424.7C497.9 424.7 499.8 424.3 502.0 424.2C504.2 424.1 506.8 424.0 509.7 424.0C512.6 424.0 516.8 424.2 520.0 424.3C523.2 424.4 526.4 424.5 530.0 424.6C533.6 424.7 540.5 424.8 542.5 424.8" fill="none" stroke="#6e6e6e" stroke-width="1.8" stroke-linejoin="round"/><path d="M379.5 428.4C380.2 428.3 382.5 427.5 384.0 427.6C385.5 427.7 387.4 428.8 389.0 428.8C390.6 428.8 392.4 427.4 394.0 427.4C395.6 427.4 397.4 428.6 399.0 428.6C400.6 428.6 402.4 427.3 404.0 427.2C405.6 427.1 407.4 428.3 409.0 428.2C410.6 428.1 412.4 426.9 414.0 426.8C415.6 426.7 417.6 427.5 419.0 427.4C420.4 427.3 421.9 426.6 423.0 426.4C424.1 426.2 425.0 426.4 426.0 426.2C427.0 426.0 427.9 425.8 429.0 425.4C430.1 425.0 431.6 424.2 432.7 423.5C433.8 422.8 434.7 421.6 435.7 421.0C436.7 420.4 437.6 420.3 438.7 419.5C439.8 418.7 441.3 417.3 442.4 415.7C443.5 414.1 444.6 411.7 445.4 409.8C446.2 407.9 446.9 406.2 447.6 403.8C448.3 401.4 449.0 398.7 449.6 394.9C450.2 391.1 450.9 384.7 451.4 379.9C451.9 375.1 452.3 369.0 452.6 365.0C452.9 361.0 453.0 358.7 453.3 354.7C453.6 350.7 454.0 344.6 454.4 339.8C454.8 335.0 455.2 329.7 455.6 324.9C456.0 320.1 456.5 313.6 457.0 310.0C457.5 306.4 458.0 304.0 458.6 302.5C459.2 301.0 460.0 300.4 460.6 300.4C461.2 300.4 462.0 301.0 462.6 302.5C463.2 304.0 463.9 306.4 464.5 310.0C465.1 313.6 465.7 320.1 466.3 324.9C466.9 329.7 467.6 335.0 468.1 339.8C468.6 344.6 469.2 350.7 469.6 354.7C470.0 358.7 470.0 361.0 470.3 365.0C470.6 369.0 471.0 375.1 471.5 379.9C472.0 384.7 472.9 391.1 473.5 394.9C474.1 398.7 474.7 401.4 475.3 403.8C475.9 406.2 476.3 407.9 477.0 409.8C477.7 411.7 478.5 414.1 479.4 415.7C480.3 417.3 481.7 418.7 482.7 419.5C483.7 420.3 484.7 419.9 485.7 420.5C486.7 421.1 487.7 422.3 488.7 423.2C489.7 424.1 490.5 425.4 491.7 425.9C492.9 426.4 494.8 426.3 496.0 426.5C497.2 426.7 497.9 427.3 499.0 427.3C500.1 427.3 501.7 426.1 503.0 426.2C504.3 426.3 505.7 427.7 507.0 427.8C508.3 427.9 509.7 426.6 511.0 426.6C512.3 426.6 513.7 428.0 515.0 428.0C516.3 428.0 517.7 426.8 519.0 426.8C520.3 426.8 521.7 428.0 523.0 428.0C524.3 428.0 525.7 427.0 527.0 427.0C528.3 427.0 529.6 428.1 531.0 428.2C532.4 428.3 534.6 427.4 536.0 427.4C537.4 427.4 539.0 427.9 540.0 427.9C541.0 427.9 542.1 427.6 542.5 427.6" fill="none" stroke="#f02828" stroke-width="1.9" stroke-linejoin="round"/><line x1="494.0" x2="515.8" y1="307.9" y2="307.9" stroke="#f02828" stroke-width="1" opacity="0.75"/><line x1="494.0" x2="515.8" y1="319.6" y2="319.6" stroke="#6e6e6e" stroke-width="1" opacity="0.65"/><text x="522.3" y="311" font-size="10.3" fill="#111">f<tspan font-size="6.6" dy="2.2">3</tspan></text><text x="518.1" y="323.4" font-size="10.3" fill="#111">Cal.</text><g stroke="#000" stroke-width="1.4" fill="none"><path d="M455.8 365.6H467.2" stroke-dasharray="1.6 1.2" stroke-width="1.2"/><path d="M457.2 362.3L453.40000000000003 365.6L457.2 368.90000000000003M465.8 362.3L469.59999999999997 365.6L465.8 368.90000000000003"/></g><text x="475.0" y="369.3" font-size="10.2" fill="#111">2.1 μm</text>
<text transform="translate(14.8,363.3) rotate(-90)" font-size="10.7" text-anchor="middle" fill="#111">Normalized intensity (A.U.)</text>
</g>
</svg></body></html>
